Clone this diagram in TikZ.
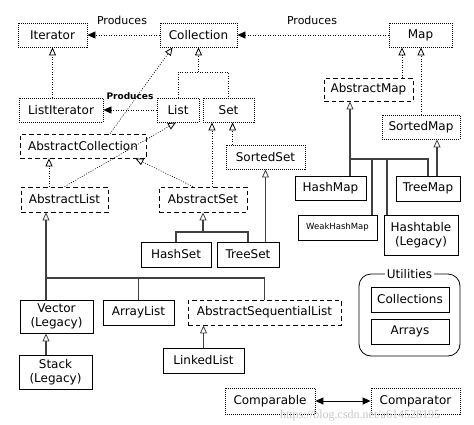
\documentclass[tikz,border=0pt]{standalone}
\usepackage{fontspec}
\setmainfont{DejaVu Sans}
\newfontfamily\wmfont{Liberation Serif}
\usetikzlibrary{arrows.meta,calc}
\begin{document}
\begin{tikzpicture}[x=1pt,y=-1pt,
  every node/.style={font=\fontsize{12}{14}\selectfont},
  sz/.style 2 args={minimum width=#1pt, minimum height=#2pt},
  box/.style={draw, line width=0.8pt, inner sep=0pt, align=center},
  dotbox/.style={box, dash pattern=on 1pt off 1pt},
  dashbox/.style={box, dash pattern=on 4.5pt off 3pt},
  dotline/.style={line width=0.6pt, dash pattern=on 1pt off 1.5pt},
  solidline/.style={line width=1.1pt, black!75},
  opentip/.style={-{Triangle[open,length=8pt,width=7pt,line width=0.8pt]}},
  filltip/.style={-{Triangle[length=8pt,width=7pt]}},
  lbl/.style={font=\fontsize{11}{12}\selectfont, inner sep=1pt}
]
\useasboundingbox (0,0) rectangle (474,424);

% interfaces and classes
\node[dotbox, sz={69}{24}] (Iterator) at (52.5,35) {Iterator};
\node[dotbox, sz={77}{24}] (Collection) at (198.5,35) {Collection};
\node[dotbox, sz={63}{24}] (Map) at (420.5,35) {Map};
\node[dashbox, sz={89}{23}] (AbstractMap) at (368.5,89.5) {AbstractMap};
\node[dotbox, sz={78}{24}] (SortedMap) at (421,127) {SortedMap};
\node[dotbox, sz={84}{24}] (ListIterator) at (61,110) {ListIterator};
\node[dotbox, sz={42}{24}] (List) at (178,110) {List};
\node[dotbox, sz={51}{24}] (Set) at (228.5,110) {Set};
\node[dotbox, sz={79}{24}] (SortedSet) at (265.5,157) {SortedSet};
\node[dashbox, sz={126}{24}] (AbstractCollection) at (83,146) {AbstractCollection};
\node[dashbox, sz={87}{25}] (AbstractList) at (64.5,199.5) {AbstractList};
\node[dashbox, sz={88}{25}] (AbstractSet) at (203,199.5) {AbstractSet};
\node[box, sz={70}{25}] (HashSet) at (176,254.5) {HashSet};
\node[box, sz={62}{25}] (TreeSet) at (248,254.5) {TreeSet};
\node[box, sz={71}{24}] (HashMap) at (330.5,188) {HashMap};
\node[box, sz={64}{25}] (TreeMap) at (428,188.5) {TreeMap};
\node[box, sz={79}{25}, font=\fontsize{8.5}{10}\selectfont] (WeakHashMap) at (337.5,227.5) {WeakHashMap};
\node[box, sz={74}{40}] (Hashtable) at (421,235) {Hashtable\\(Legacy)};
\node[box, sz={73}{33}] (Vector) at (56.5,316.5) {Vector\\(Legacy)};
\node[box, sz={71}{25}] (ArrayList) at (138.5,312.5) {ArrayList};
\node[dashbox, sz={153}{25}] (ASL) at (264.5,312.5) {AbstractSequentialList};
\node[box, sz={73}{34}] (Stack) at (55.5,372) {Stack\\(Legacy)};
\node[box, sz={81}{25}] (LinkedList) at (203.5,360.5) {LinkedList};

% utilities
\node[draw, line width=0.8pt, rounded corners=12pt, sz={101}{82}] (Util) at (409.5,315) {};
\node[fill=white, inner sep=2pt] (UtilLabel) at (Util.north) {Utilities};
\node[box, sz={78}{25}] (Collections) at (410,299.5) {Collections};
\node[box, sz={78}{25}] (Arrays) at (410,331.5) {Arrays};

\node[dotbox, sz={90}{26}] (Comparable) at (270,401) {Comparable};
\node[dotbox, sz={89}{26}] (Comparator) at (415.5,401) {Comparator};

% produces
\draw[dotline, filltip] (Collection.west) -- (Iterator.east);
\draw[dotline, filltip] (Map.west) -- (Collection.east);
\draw[dotline, filltip] (List.west) -- (ListIterator.east);
\node[lbl] (prod1) at (122,20) {Produces};
\node[lbl] (prod2) at (312,20) {Produces};
\node[font=\fontsize{9}{10}\selectfont\bfseries, inner sep=1pt] (prod3) at (130,96) {Produces};

% interface hierarchy
\draw[dotline, opentip] (Iterator.south |- ListIterator.north) -- (Iterator.south);
\coordinate (cj) at (198.5,72);
\draw[dotline] (List.north) |- (cj) -| (Set.north);
\draw[dotline, opentip] (cj) -- (Collection.south);
\draw[dotline, opentip] ([xshift=27pt]AbstractCollection.north) -- ([xshift=13pt]Collection.south west);
\draw[dotline, opentip] (AbstractList.north) -- ([xshift=-2pt]List.south);
\coordinate (al1) at ([xshift=-15.5pt]AbstractList.north);
\draw[dotline, opentip] (al1) -- (al1 |- AbstractCollection.south);
\draw[dotline, opentip] ([xshift=-10pt]AbstractSet.north) -- ([xshift=-11pt]AbstractCollection.south east);
\coordinate (as1) at ([xshift=9pt]AbstractSet.north);
\draw[dotline, opentip] (as1) -- (as1 |- Set.south);
\coordinate (ss1) at ([xshift=7pt]SortedSet.north west);
\draw[dotline, opentip] (ss1) -- (ss1 |- Set.south);

% set tree
\coordinate (y232) at (0,232);
\coordinate (sj) at (AbstractSet.south |- y232);
\draw[solidline] (HashSet.north) |- (sj) -| (TreeSet.north);
\draw[solidline, opentip] (sj) -- (AbstractSet.south);
\draw[solidline, opentip] (SortedSet.south |- TreeSet.north) -- (SortedSet.south);

% list tree
\coordinate (lj) at (46,278);
\draw[solidline, opentip] (lj) -- (lj |- AbstractList.south);
\draw[solidline] (lj |- Vector.north) -- (lj) -- (ASL.north |- lj) -- (ASL.north);
\draw[solidline] (ArrayList.north |- lj) -- (ArrayList.north);
\draw[solidline, opentip] (lj |- Stack.north) -- (lj |- Vector.south);
\draw[solidline, opentip] (LinkedList.north) -- (LinkedList.north |- ASL.south);

% map tree
\coordinate (mj) at (350,159);
\draw[solidline, opentip] (mj) -- (mj |- AbstractMap.south);
\draw[solidline] (mj |- HashMap.north) -- (mj) -- (TreeMap.north |- mj) -- (TreeMap.north);
\coordinate (w1) at (372,159);
\draw[solidline] (w1) -- (w1 |- WeakHashMap.north);
\coordinate (h1) at (387,159);
\draw[solidline] (h1) -- (h1 |- Hashtable.north);
\coordinate (t1) at (437,176);
\draw[solidline, opentip] (t1) -- (t1 |- SortedMap.south);
\coordinate (am1) at (402,78);
\draw[dotline, opentip] (am1) -- (am1 |- Map.south);
\draw[dotline, opentip] (SortedMap.north) -- (SortedMap.north |- Map.south);

% comparable / comparator
\draw[line width=1pt, {Triangle[length=8pt,width=7pt]}-{Triangle[length=8pt,width=7pt]}] (Comparable.east) -- (Comparator.west);

% watermark
\node[font=\wmfont\fontsize{12}{12}\selectfont, text=black!22, inner sep=0pt] (wm) at (360,416) {https://blog.csdn.net/a614528195};
\end{tikzpicture}
\end{document}
